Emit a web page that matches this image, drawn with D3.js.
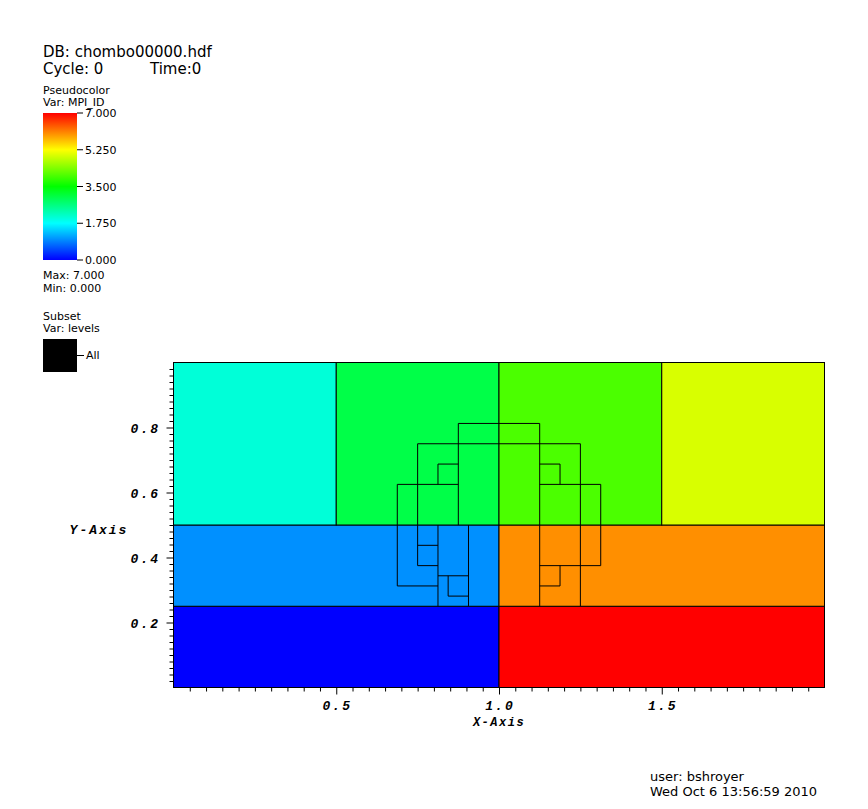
<!DOCTYPE html>
<html><head><meta charset="utf-8">
<script src="https://d3js.org/d3.v7.min.js"></script>
<style>body{margin:0;background:#fff}</style></head>
<body><svg id="c" width="868" height="809"></svg>
<script>
// Level-0 patches: [x0,x1,y0,y1,mpiId]
const patches = [
  [0,1,0,0.25,0],[1,2,0,0.25,7],
  [0,1,0.25,0.5,1],[1,2,0.25,0.5,6],
  [0,0.5,0.5,1,2],[0.5,1,0.5,1,3],[1,1.5,0.5,1,4],[1.5,2,0.5,1,5]
];
const patchColors = ["#0000ff","#0090ff","#00ffd8","#00ff48","#4bff00","#d8ff00","#ff8f00","#ff0000"];
// Refined level boundaries: horizontal [y,x0,x1], vertical [x,y0,y1]
const hSegs = [[0.8125,0.875,1.125],[0.75,0.75,1.25],[0.6875,0.8125,0.875],[0.6875,1.125,1.1875],
  [0.625,0.6875,0.875],[0.625,1.125,1.3125],[0.4375,0.75,0.8125],[0.375,0.75,0.8125],[0.375,1.125,1.3125],
  [0.34375,0.8125,0.90625],[0.3125,0.6875,0.8125],[0.3125,1.125,1.1875],[0.28125,0.84375,0.90625]];
const vSegs = [[0.6875,0.3125,0.625],[0.75,0.375,0.75],[0.8125,0.625,0.6875],[0.8125,0.25,0.5],
  [0.84375,0.28125,0.34375],[0.875,0.5,0.8125],[0.90625,0.25,0.5],[1.125,0.25,0.8125],
  [1.1875,0.625,0.6875],[1.1875,0.3125,0.375],[1.25,0.25,0.75],[1.3125,0.375,0.625]];
const xTicks = [0.5,1.0,1.5], xTickLabels=["0.5","1.0","1.5"];
const yTicks = [0.2,0.4,0.6,0.8], yTickLabels=["0.2","0.4","0.6","0.8"];
const cbTicks = [0,1.75,3.5,5.25,7], cbLabels=["0.000","1.750","3.500","5.250","7.000"];

const svg = d3.select("#c");
const x = d3.scaleLinear().domain([0,2]).range([173.5,824.5]);
const y = d3.scaleLinear().domain([0,1]).range([687.5,362.5]);

svg.selectAll("rect.p").data(patches).join("rect")
  .attr("x",d=>x(d[0])).attr("y",d=>y(d[3])).attr("width",d=>x(d[1])-x(d[0])).attr("height",d=>y(d[2])-y(d[3]))
  .attr("fill",d=>patchColors[d[4]]).attr("stroke","#000").attr("stroke-width",1);
svg.selectAll("line.h").data(hSegs).join("line").attr("x1",d=>x(d[1])).attr("x2",d=>x(d[2])).attr("y1",d=>y(d[0])).attr("y2",d=>y(d[0])).attr("stroke","#000");
svg.selectAll("line.v").data(vSegs).join("line").attr("x1",d=>x(d[0])).attr("x2",d=>x(d[0])).attr("y1",d=>y(d[1])).attr("y2",d=>y(d[2])).attr("stroke","#000");
svg.append("rect").attr("x",x(0)).attr("y",y(1)).attr("width",x(2)-x(0)).attr("height",y(0)-y(1)).attr("fill","none").attr("stroke","#000");

const ax = svg.append("g").attr("transform",`translate(0,${y(0)})`);
ax.call(d3.axisBottom(x).tickValues(d3.range(1,40).map(i=>i*0.05)).tickSize(4).tickFormat("")).select(".domain").remove();
ax.call(g=>g.selectAll(".tick line").filter(d=>Math.abs(d*2-Math.round(d*2))<1e-6).attr("y2",7));
const ay = svg.append("g").attr("transform",`translate(${x(0)},0)`);
ay.call(d3.axisLeft(y).tickValues(d3.range(1,50).map(i=>i*0.02)).tickSize(4).tickFormat("")).select(".domain").remove();
ay.call(g=>g.selectAll(".tick line").filter(d=>Math.abs(d*5-Math.round(d*5))<1e-6).attr("x2",-7));

const mono = "'Liberation Mono', 'DejaVu Sans Mono', monospace";
svg.selectAll("text.xt").data(xTicks).join("text").attr("x",d=>x(d)+1).attr("y",710).attr("text-anchor","middle")
  .attr("font-family",mono).attr("font-weight","bold").attr("font-style","italic").attr("font-size",13).attr("letter-spacing",2)
  .text((d,i)=>xTickLabels[i]);
svg.selectAll("text.yt").data(yTicks).join("text").attr("x",160).attr("y",d=>y(d)+5).attr("text-anchor","end")
  .attr("font-family",mono).attr("font-weight","bold").attr("font-style","italic").attr("font-size",13).attr("letter-spacing",2)
  .text((d,i)=>yTickLabels[i]);
svg.append("text").attr("x",499).attr("y",726).attr("text-anchor","middle").attr("font-family",mono).attr("font-weight","bold").attr("font-style","italic").attr("font-size",12).attr("letter-spacing",1.5).text("X-Axis");
svg.append("text").attr("x",99).attr("y",534).attr("text-anchor","middle").attr("font-family",mono).attr("font-weight","bold").attr("font-style","italic").attr("font-size",13).attr("letter-spacing",2).text("Y-Axis");

const sans="'DejaVu Sans', sans-serif";
const t=(s,xx,yy,fs,anchor)=>svg.append("text").attr("x",xx).attr("y",yy).attr("font-family",sans).attr("font-size",fs).attr("text-anchor",anchor||"start").attr("fill","#000").text(s);
t("DB: chombo00000.hdf",43,57,15); t("Cycle: 0",43,74,15); t("Time:0",150,74,15);
t("Pseudocolor",43,94,11); t("Var: MPI_ID",43,106,11);
t("Max:  7.000",43,279,11); t("Min:  0.000",43,292,11);
t("Subset",43,320,11); t("Var: levels",43,332,11);
t("user: bshroyer",650,781,13); t("Wed Oct  6 13:56:59 2010",650,796,13);

// colorbar
const cb = d3.scaleLinear().domain([0,7]).range([260,113]);
const defs=svg.append("defs"); const grad=defs.append("linearGradient").attr("id","g").attr("x1",0).attr("x2",0).attr("y1",1).attr("y2",0);
[["0","#0000ff"],["0.25","#00ffff"],["0.5","#00ff00"],["0.75","#ffff00"],["1","#ff0000"]].forEach(s=>grad.append("stop").attr("offset",s[0]).attr("stop-color",s[1]));
svg.append("rect").attr("x",43).attr("y",cb(7)).attr("width",34).attr("height",cb(0)-cb(7)).attr("fill","url(#g)");
svg.selectAll("line.cb").data(cbTicks).join("line").attr("x1",77).attr("x2",83).attr("y1",d=>cb(d)).attr("y2",d=>cb(d)).attr("stroke","#000");
svg.selectAll("text.cb").data(cbTicks).join("text").attr("x",85).attr("y",d=>cb(d)+4).attr("font-family",sans).attr("font-size",11).text((d,i)=>cbLabels[i]);
svg.append("rect").attr("x",43).attr("y",339).attr("width",34).attr("height",33).attr("fill","#000");
svg.append("line").attr("x1",77).attr("x2",84).attr("y1",355.5).attr("y2",355.5).attr("stroke","#000");
t("All",86,359,11);
</script></body></html>
